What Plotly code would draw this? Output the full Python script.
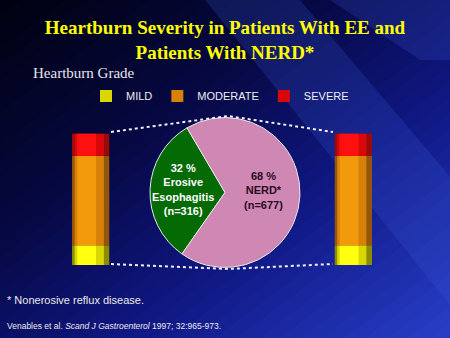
import plotly.graph_objects as go

# ---------------- data ----------------
groups = ["Erosive Esophagitis", "NERD*"]
patients_n = [316, 677]
percents = [32, 68]

grades = ["MILD", "MODERATE", "SEVERE"]
ee_grade_pct = [15, 68, 17]      # Erosive esophagitis: mild, moderate, severe
nerd_grade_pct = [15, 68, 17]    # NERD: mild, moderate, severe

# ---------------- styling ----------------
W, H = 450, 338
SERIF = "Liberation Serif, Times New Roman, Tinos, DejaVu Serif, serif"
grade_dark = ["#8C8C00", "#94560A", "#9A0A0A"]
grade_mid = ["#D8D800", "#D88008", "#D80808"]
grade_bright = ["#FFFF10", "#F39A0C", "#FF1010"]
pie_colors = ["#046A04", "#CF87B4"]


def px(x):
    return x / W


def py(y):
    return 1 - y / H


fig = go.Figure()

# ---------------- background gradient (decorative) ----------------
def lerp(c0, c1, t):
    return tuple(int(round(a + (b - a) * t)) for a, b in zip(c0, c1))


stops = [(0.0, (0, 1, 14)), (0.7, (6, 8, 66)), (1.3, (16, 24, 132)), (2.0, (40, 62, 200))]


def bg_color(s):
    for (s0, c0), (s1, c1) in zip(stops[:-1], stops[1:]):
        if s <= s1:
            t = max(0.0, min(1.0, (s - s0) / (s1 - s0)))
            return "rgb(%d,%d,%d)" % lerp(c0, c1, t)
    return "rgb(%d,%d,%d)" % stops[-1][1]


shapes = []
N = 44
for i in range(N):
    s0 = -0.05 + i * 2.1 / N
    s1 = s0 + 2.1 / N + 0.01
    col = bg_color((s0 + s1) / 2)
    path = "M %f,1 L %f,1 L %f,-1 L %f,-1 Z" % (s0, s1, s1 - 2, s0 - 2)
    shapes.append(dict(type="path", xref="paper", yref="paper", path=path,
                       fillcolor=col, line=dict(width=0), layer="below"))

# lighter diagonal beam on the right
shapes.append(dict(type="path", xref="paper", yref="paper",
                   path="M %f,%f L %f,%f L %f,%f L %f,%f Z" % (
                       px(205), py(0), px(300), py(0), px(470), py(200), px(470), py(330)),
                   fillcolor="rgba(60,90,220,0.22)", line=dict(width=0), layer="below"))
shapes.append(dict(type="path", xref="paper", yref="paper",
                   path="M %f,%f L %f,%f L %f,%f L %f,%f Z" % (
                       px(330), py(0), px(460), py(0), px(460), py(60), px(420), py(60)),
                   fillcolor="rgba(50,80,200,0.25)", line=dict(width=0), layer="below"))

# dotted connector lines (decorative)
for pts in ([(111, 132), (228, 116), (333, 132)], [(111, 264), (228, 269), (333, 264)]):
    path = "M " + " L ".join("%f,%f" % (px(x), py(y)) for x, y in pts)
    shapes.append(dict(type="path", xref="paper", yref="paper", path=path,
                       line=dict(color="#F0F0F0", width=2, dash="dot"), layer="above"))

# ---------------- stacked cylinder bars ----------------
def add_bar(values, xaxis, cat, showlegend):
    base = 0
    for gi, v in enumerate(values):
        fig.add_trace(go.Bar(x=[cat], y=[v], base=[base], width=[1.0], offset=-0.5,
                             marker=dict(color=grade_dark[gi], line=dict(width=0)),
                             legendgroup=grades[gi], showlegend=False,
                             xaxis=xaxis, yaxis="y", hoverinfo="skip"))
        fig.add_trace(go.Bar(x=[cat], y=[v], base=[base], width=[0.78], offset=-0.43,
                             marker=dict(color=grade_mid[gi], line=dict(width=0)),
                             name=grades[gi], legendgroup=grades[gi], showlegend=showlegend,
                             xaxis=xaxis, yaxis="y", hoverinfo="skip"))
        fig.add_trace(go.Bar(x=[cat], y=[v], base=[base], width=[0.5], offset=-0.36,
                             marker=dict(color=grade_bright[gi], line=dict(width=0)),
                             legendgroup=grades[gi], showlegend=False,
                             xaxis=xaxis, yaxis="y", hoverinfo="skip"))
        base += v


add_bar(ee_grade_pct, "x", groups[0], True)
add_bar(nerd_grade_pct, "x2", groups[1], False)

# ---------------- pie ----------------
fig.add_trace(go.Pie(
    labels=groups, values=patients_n, sort=False, direction="clockwise", rotation=-145,
    marker=dict(colors=pie_colors, line=dict(color="#E8E8E8", width=1)),
    textinfo="none", hoverinfo="label+percent", showlegend=False,
    domain=dict(x=[px(150), px(300)], y=[py(268), py(117)]),
))

# ---------------- text ----------------
annotations = [
    dict(text="Heartburn Grade", x=px(31), y=py(73), xref="paper", yref="paper",
         xanchor="left", yanchor="middle", showarrow=False,
         font=dict(family=SERIF, size=15, color="#E6E6EE")),
    dict(text="<b>%d %%<br>Erosive<br>Esophagitis<br>(n=%d)</b>" % (percents[0], patients_n[0]),
         x=px(183), y=py(189), xref="paper", yref="paper", showarrow=False,
         xanchor="center", yanchor="middle",
         font=dict(family="Liberation Sans", size=11, color="#FFFFFF")),
    dict(text="<b>%d %%<br>NERD*<br>(n=%d)</b>" % (percents[1], patients_n[1]),
         x=px(263), y=py(190), xref="paper", yref="paper", showarrow=False,
         xanchor="center", yanchor="middle",
         font=dict(family="Liberation Sans", size=11, color="#2A0A22")),
    dict(text="* Nonerosive reflux disease.", x=px(5), y=py(300), xref="paper", yref="paper",
         xanchor="left", yanchor="middle", showarrow=False,
         font=dict(family="Liberation Sans", size=11, color="#EAEAEA")),
    dict(text="Venables et al. <i>Scand J Gastroenterol</i> 1997; 32:965-973.",
         x=px(5), y=py(326), xref="paper", yref="paper",
         xanchor="left", yanchor="middle", showarrow=False,
         font=dict(family="Liberation Sans", size=8.5, color="#EAEAEA")),
]

bar_y_domain = [py(265), py(133.5)]
fig.update_layout(
    width=W, height=H, margin=dict(l=0, r=0, t=0, b=0),
    paper_bgcolor="#08094A", plot_bgcolor="rgba(0,0,0,0)",
    barmode="overlay",
    title=dict(text="<b>Heartburn Severity in Patients With EE and<br>Patients With NERD*</b>",
               x=0.5, xanchor="center", xref="paper", yref="container",
               y=py(34), yanchor="top",
               font=dict(family=SERIF, size=19, color="#FFFF00")),
    xaxis=dict(domain=[px(72), px(109.5)], range=[-0.5, 0.5], visible=False, fixedrange=True),
    xaxis2=dict(domain=[px(334.5), px(372)], range=[-0.5, 0.5], visible=False, anchor="y",
                fixedrange=True),
    yaxis=dict(domain=bar_y_domain, range=[0, 100], visible=False, fixedrange=True),
    legend=dict(orientation="h", x=px(86), xanchor="left", y=py(96), yanchor="middle",
                bgcolor="rgba(0,0,0,0)", traceorder="normal",
                font=dict(family="Liberation Sans", size=11, color="#EEEEEE")),
    shapes=shapes, annotations=annotations,
)

fig.write_html("out.html")
